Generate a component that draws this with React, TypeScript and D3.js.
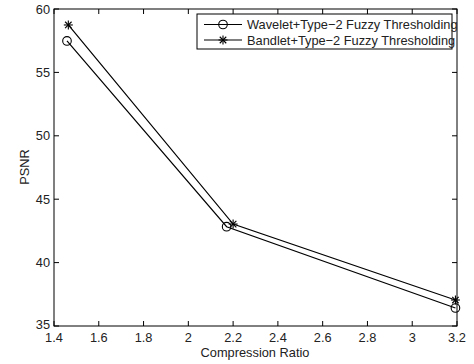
import React from "react";
import * as d3 from "d3";

const compressionWavelet = [1.458, 2.171, 3.193];
const psnrWavelet = [57.48, 42.83, 36.42];
const compressionBandlet = [1.464, 2.2, 3.193];
const psnrBandlet = [58.74, 43.04, 37.05];
const xTicks = [1.4, 1.6, 1.8, 2, 2.2, 2.4, 2.6, 2.8, 3, 3.2];
const yTicks = [35, 40, 45, 50, 55, 60];
const seriesNames = ["Wavelet+Type\u22122 Fuzzy Thresholding", "Bandlet+Type\u22122 Fuzzy Thresholding"];

const W = 474, H = 364;
const L = 54, R = 457, T = 9, B = 326;
const font = "Liberation Sans, Arial, sans-serif";
const fs = 12.8;

function Star({ x, y, s = 4.5 }: { x: number; y: number; s?: number }) {
  const d = s * 0.72;
  return (
    <g stroke="#000" strokeWidth={1.1}>
      <line x1={x - s} y1={y} x2={x + s} y2={y} />
      <line x1={x} y1={y - s} x2={x} y2={y + s} />
      <line x1={x - d} y1={y - d} x2={x + d} y2={y + d} />
      <line x1={x - d} y1={y + d} x2={x + d} y2={y - d} />
    </g>
  );
}

export default function App() {
  const x = d3.scaleLinear().domain([1.4, 3.2]).range([L, R]);
  const y = d3.scaleLinear().domain([35, 60]).range([B, T]);
  const line = d3.line<[number, number]>().x((d) => x(d[0])).y((d) => y(d[1]));
  const wData: [number, number][] = compressionWavelet.map((c, i) => [c, psnrWavelet[i]]);
  const bData: [number, number][] = compressionBandlet.map((c, i) => [c, psnrBandlet[i]]);
  const tl = 5;
  return (
    <svg width={W} height={H} style={{ position: "absolute", left: 0, top: 0, background: "#fff" }} fontFamily={font}>
      <rect x={0} y={0} width={W} height={H} fill="#fff" />
      {xTicks.map((t) => (
        <g key={"x" + t}>
          <line x1={x(t)} x2={x(t)} y1={B} y2={B - tl} stroke="#000" />
          <line x1={x(t)} x2={x(t)} y1={T} y2={T + tl} stroke="#000" />
          <text x={x(t)} y={342} fontSize={fs} textAnchor="middle" fill="#222">{String(t)}</text>
        </g>
      ))}
      {yTicks.map((t) => (
        <g key={"y" + t}>
          <line x1={L} x2={L + tl} y1={y(t)} y2={y(t)} stroke="#000" />
          <line x1={R} x2={R - tl} y1={y(t)} y2={y(t)} stroke="#000" />
          <text x={50} y={y(t) + (t === 35 ? 3 : 4.5)} fontSize={fs} textAnchor="end" fill="#222">{String(t)}</text>
        </g>
      ))}
      <rect x={L} y={T} width={R - L} height={B - T} fill="none" stroke="#000" strokeWidth={1} />
      <path d={line(wData) || ""} fill="none" stroke="#000" strokeWidth={1.2} />
      <path d={line(bData) || ""} fill="none" stroke="#000" strokeWidth={1.2} />
      {wData.map((d, i) => (
        <circle key={"c" + i} cx={x(d[0])} cy={y(d[1])} r={4.3} fill="none" stroke="#000" strokeWidth={1.1} />
      ))}
      {bData.map((d, i) => (
        <Star key={"s" + i} x={x(d[0])} y={y(d[1])} />
      ))}
      <text x={255} y={357} fontSize={fs} textAnchor="middle" fill="#222">Compression Ratio</text>
      <text transform={`translate(29,167) rotate(-90)`} fontSize={fs} textAnchor="middle" fill="#222">PSNR</text>
      <g>
        <rect x={197} y={14} width={255} height={35} fill="#fff" stroke="#000" strokeWidth={1} />
        <line x1={204} x2={242} y1={24.5} y2={24.5} stroke="#000" strokeWidth={1.2} />
        <circle cx={223} cy={24.5} r={4.3} fill="none" stroke="#000" strokeWidth={1.1} />
        <text x={247} y={29} fontSize={fs} fill="#222">{seriesNames[0]}</text>
        <line x1={204} x2={242} y1={40} y2={40} stroke="#000" strokeWidth={1.2} />
        <Star x={223} y={40} />
        <text x={247} y={44.5} fontSize={fs} fill="#222">{seriesNames[1]}</text>
      </g>
    </svg>
  );
}
